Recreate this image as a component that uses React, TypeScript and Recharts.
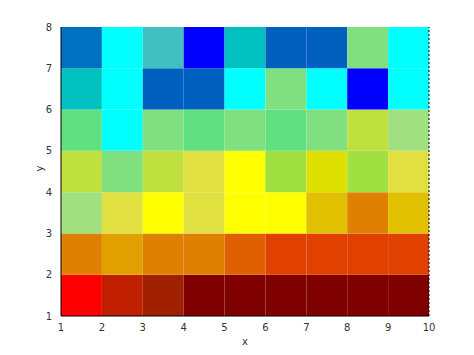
import { ScatterChart, Scatter, XAxis, YAxis, ReferenceArea, ReferenceLine } from 'recharts'

// palette of colour levels, low -> high
const LEVELS = [
  '#0000ff', '#0060c0', '#0070c0', '#00c0c0', '#40c0c0', '#00ffff',
  '#60e080', '#80e080', '#a0e080', '#a0e040', '#c0e040', '#e0e040',
  '#e0e000', '#ffff00', '#e0c000', '#e0a000', '#e08000', '#e06000',
  '#e04000', '#ff0000', '#c02000', '#a02000', '#800000',
]

const X_TICKS = [1, 2, 3, 4, 5, 6, 7, 8, 9, 10]
const Y_TICKS = [1, 2, 3, 4, 5, 6, 7, 8]

// one row per y band, bottom (1-2) to top (7-8), values are level indices
const ROW_1 = [19, 20, 21, 22, 22, 22, 22, 22, 22]
const ROW_2 = [16, 15, 16, 16, 17, 18, 18, 18, 18]
const ROW_3 = [8, 11, 13, 11, 13, 13, 14, 16, 14]
const ROW_4 = [10, 7, 10, 11, 13, 9, 12, 9, 11]
const ROW_5 = [6, 5, 7, 6, 7, 6, 7, 10, 8]
const ROW_6 = [3, 5, 1, 1, 5, 7, 5, 0, 5]
const ROW_7 = [2, 5, 4, 0, 3, 1, 1, 7, 5]

const ROWS = [ROW_1, ROW_2, ROW_3, ROW_4, ROW_5, ROW_6, ROW_7]

const cells = ROWS.flatMap((row, r) =>
  row.map((level, c) => ({ x: X_TICKS[c], y: Y_TICKS[r], level }))
)

const tickStyle = { fontSize: 10, fill: '#333', fontFamily: 'DejaVu Sans' }

export default function App() {
  return (
    <div style={{ position: 'absolute', left: 0, top: 0, background: '#fff' }}>
      <ScatterChart width={474} height={355} margin={{ top: 27, right: 45, bottom: 0, left: 1 }}>
        <XAxis
          type="number"
          dataKey="x"
          domain={[1, 10]}
          ticks={X_TICKS}
          interval={0}
          allowDataOverflow
          tickLine={false}
          axisLine={{ stroke: '#000' }}
          tick={tickStyle}
          tickMargin={2}
          height={39}
          label={{ value: 'x', position: 'insideBottom', offset: 10, style: tickStyle }}
        />
        <YAxis
          type="number"
          dataKey="y"
          domain={[1, 8]}
          ticks={Y_TICKS}
          interval={0}
          allowDataOverflow
          tickLine={false}
          axisLine={{ stroke: '#000' }}
          tick={tickStyle}
          tickMargin={3}
          width={60}
          label={{ value: 'y', angle: -90, position: 'insideLeft', offset: 38, style: tickStyle }}
        />
        {cells.map((d, i) => (
          <ReferenceArea
            key={i}
            x1={d.x}
            x2={d.x + 1}
            y1={d.y}
            y2={d.y + 1}
            fill={LEVELS[d.level]}
            fillOpacity={1}
            stroke="none"
            ifOverflow="hidden"
          />
        ))}
        <ReferenceLine x={10} stroke="#000" strokeDasharray="2 2" />
        <Scatter data={cells} isAnimationActive={false} shape={() => <g />} />
      </ScatterChart>
    </div>
  )
}
